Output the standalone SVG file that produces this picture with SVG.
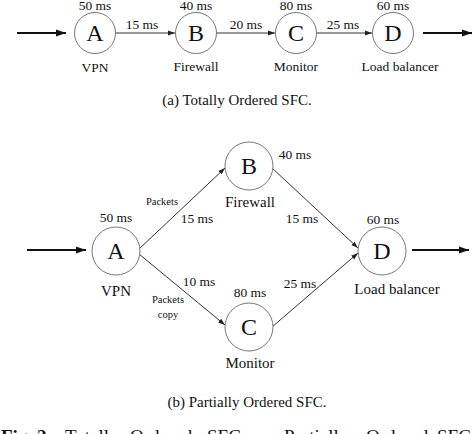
<svg xmlns="http://www.w3.org/2000/svg" width="474" height="434" viewBox="0 0 474 434">
<defs>
<style>
text{font-family:"Liberation Serif","Times New Roman",serif;fill:#111;text-anchor:middle}
.node{fill:#fff;stroke:#777;stroke-width:1}
.big{font-size:24px}
.lbl{font-size:13.5px}
.lbl2{font-size:15px}
.sm{font-size:10.5px}
.cap{font-size:15px}
.edge{stroke:#333;stroke-width:1;fill:none;marker-end:url(#ah)}
.io{stroke:#111;stroke-width:2;fill:none;marker-end:url(#ah2)}
</style>
<marker id="ah" viewBox="0 0 10 10" refX="10" refY="5" markerWidth="7" markerHeight="7" orient="auto" markerUnits="userSpaceOnUse"><path d="M0,1.5 L10,5 L0,8.5 z" fill="#222"/></marker>
<marker id="ah2" viewBox="0 0 10 10" refX="10" refY="5" markerWidth="12" markerHeight="10" orient="auto" markerUnits="userSpaceOnUse"><path d="M0,1.5 L10,5 L0,8.5 z" fill="#111"/></marker>
</defs>
<rect width="474" height="434" fill="#fff"/>
<g id="connectors">
<line class="io" x1="17" y1="33" x2="66" y2="33"/>
<line class="edge" x1="115" y1="33" x2="175" y2="33"/>
<line class="edge" x1="217" y1="33" x2="275" y2="33"/>
<line class="edge" x1="316" y1="33" x2="372" y2="33"/>
<line class="io" x1="423" y1="33" x2="472" y2="33"/>
<line class="io" x1="27" y1="250" x2="86" y2="250"/>
<line class="edge" x1="139" y1="249" x2="225" y2="168"/>
<line class="edge" x1="139" y1="254" x2="225" y2="325"/>
<line class="edge" x1="272" y1="168" x2="358" y2="248"/>
<line class="edge" x1="272" y1="327" x2="358" y2="253"/>
<line class="io" x1="412" y1="250" x2="469" y2="250"/>
<text class="lbl" x="142" y="29">15 ms</text>
<text class="lbl" x="246" y="29">20 ms</text>
<text class="lbl" x="343" y="29">25 ms</text>
<text class="sm" x="162" y="205">Packets</text>
<text class="lbl" x="197" y="223">15 ms</text>
<text class="lbl" x="199" y="286">10 ms</text>
<text class="sm" x="168" y="303">Packets</text>
<text class="sm" x="168" y="318">copy</text>
<text class="lbl" x="302" y="223">15 ms</text>
<text class="lbl" x="300" y="288">25 ms</text>
</g>
<g id="a1">
<circle class="node" cx="95" cy="33" r="20.5"/>
<text class="big" x="95" y="41">A</text>
<text class="lbl" x="95" y="10">50 ms</text>
<text class="lbl" x="95" y="72">VPN</text>
</g>
<g id="b1">
<circle class="node" cx="196" cy="33" r="20.5"/>
<text class="big" x="196" y="41">B</text>
<text class="lbl" x="196" y="10">40 ms</text>
<text class="lbl" x="196" y="71">Firewall</text>
</g>
<g id="c1">
<circle class="node" cx="296" cy="33" r="20.5"/>
<text class="big" x="296" y="41">C</text>
<text class="lbl" x="296" y="10">80 ms</text>
<text class="lbl" x="296" y="71">Monitor</text>
</g>
<g id="d1">
<circle class="node" cx="393" cy="33" r="20.5"/>
<text class="big" x="393" y="41">D</text>
<text class="lbl" x="393" y="10">60 ms</text>
<text class="lbl" x="400" y="71">Load balancer</text>
</g>
<text class="cap" x="237" y="105">(a) Totally Ordered SFC.</text>
<g id="a2">
<circle class="node" cx="116" cy="251" r="24"/>
<text class="big" x="116" y="259">A</text>
<text class="lbl" x="116" y="222">50 ms</text>
<text class="lbl2" x="116" y="296">VPN</text>
</g>
<g id="b2">
<circle class="node" cx="249" cy="166" r="24"/>
<text class="big" x="249" y="174">B</text>
<text class="lbl" x="295" y="159">40 ms</text>
<text class="lbl2" x="250" y="207">Firewall</text>
</g>
<g id="c2">
<circle class="node" cx="249" cy="327" r="24"/>
<text class="big" x="249" y="335">C</text>
<text class="lbl" x="250" y="297">80 ms</text>
<text class="lbl2" x="250" y="368">Monitor</text>
</g>
<g id="d2">
<circle class="node" cx="382" cy="251" r="24"/>
<text class="big" x="382" y="259">D</text>
<text class="lbl" x="383" y="224">60 ms</text>
<text class="lbl2" x="397" y="294">Load balancer</text>
</g>
<text class="cap" x="247" y="407">(b) Partially Ordered SFC.</text>
<text y="443" style="text-anchor:start;font-size:19px"><tspan x="1" font-weight="bold">Fig. 2:</tspan><tspan x="65">Totally</tspan><tspan x="130">Ordered</tspan><tspan x="207">SFC</tspan><tspan x="250">vs.</tspan><tspan x="284">Partially</tspan><tspan x="366">Ordered</tspan><tspan x="437">SFC</tspan></text>
</svg>
